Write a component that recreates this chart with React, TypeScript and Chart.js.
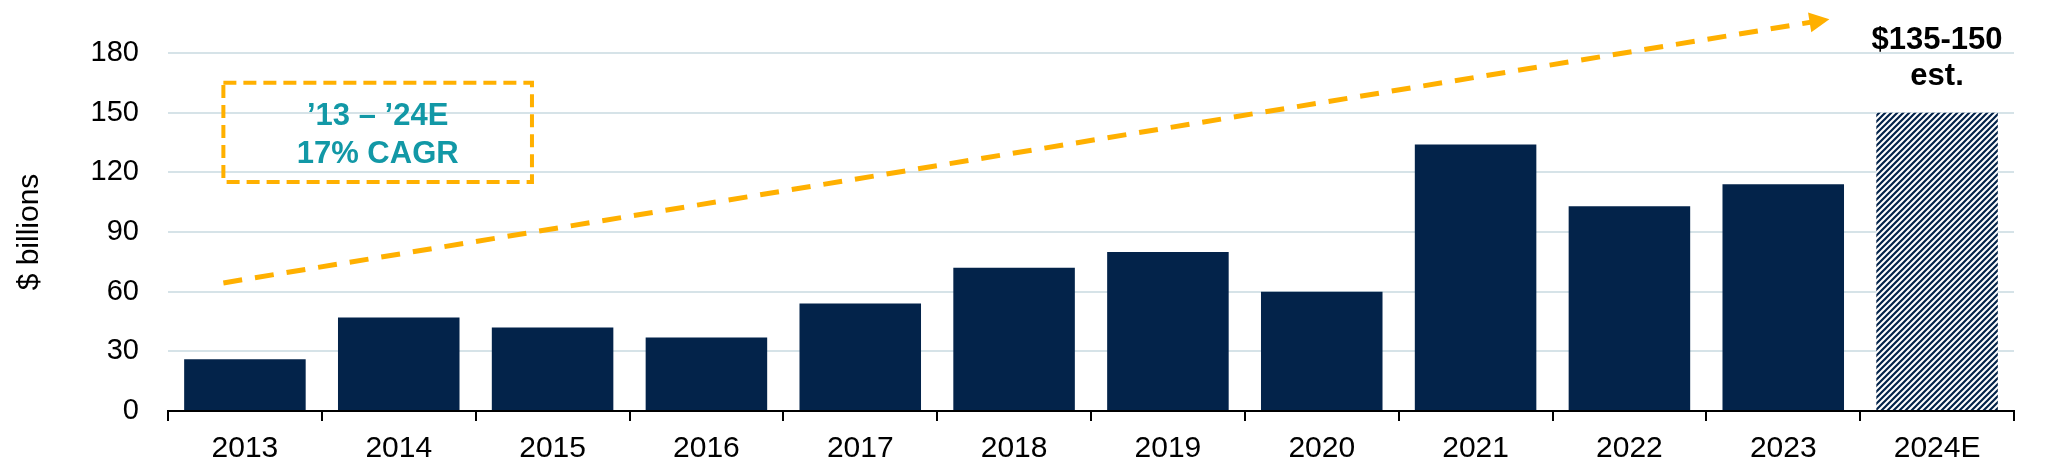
import { useEffect, useRef } from "react";
import Chart from "chart.js/auto";
import type { Plugin } from "chart.js";

// values
const years = ["2013", "2014", "2015", "2016", "2017", "2018", "2019", "2020", "2021", "2022", "2023", "2024E"];
const investment = [26, 47, 42, 37, 54, 72, 80, 60, 134, 103, 114, 150];
const yTicks = [0, 30, 60, 90, 120, 150, 180];

// dashed trend arrow, in category-index / $bn units
const trendX = [-0.14, 10.3];
const trendY = [64.4, 197];

const cagrLines = ["\u201913 \u2013 \u201924E", "17% CAGR"];
const estimateLines = ["$135-150", "est."];

const NAVY = "#03234a";
const ORANGE = "#ffb000";
const TEAL = "#1298a6";
const GRID = "#d6e3e8";
const FONT = "'Liberation Sans', Arial, sans-serif";

function makeHatch(): CanvasPattern | string {
  const s = 6;
  const tile = document.createElement("canvas");
  tile.width = s;
  tile.height = s;
  const c = tile.getContext("2d");
  if (!c) return NAVY;
  c.fillStyle = "#fff";
  c.fillRect(0, 0, s, s);
  c.strokeStyle = NAVY;
  c.lineWidth = 2.2;
  c.beginPath();
  c.moveTo(0, s);
  c.lineTo(s, 0);
  c.moveTo(-s / 2, s / 2);
  c.lineTo(s / 2, -s / 2);
  c.moveTo(s / 2, s * 1.5);
  c.lineTo(s * 1.5, s / 2);
  c.stroke();
  return c.createPattern(tile, "repeat") ?? NAVY;
}

const annotations: Plugin<"bar"> = {
  id: "annotations",
  afterDatasetsDraw(chart) {
    const { ctx } = chart;
    const xs = chart.scales.xTrend;
    const ys = chart.scales.y;

    // arrow head on the end of the trend line
    const pts = chart.getDatasetMeta(1).data;
    if (pts.length > 1) {
      const a = pts[pts.length - 2];
      const b = pts[pts.length - 1];
      const ang = Math.atan2(b.y - a.y, b.x - a.x);
      ctx.save();
      ctx.translate(b.x, b.y);
      ctx.rotate(ang);
      ctx.fillStyle = ORANGE;
      ctx.beginPath();
      ctx.moveTo(0, 0);
      ctx.lineTo(-20, -10);
      ctx.lineTo(-20, 10);
      ctx.closePath();
      ctx.fill();
      ctx.restore();
    }

    // CAGR box
    const left = xs.getPixelForValue(-0.14);
    const right = xs.getPixelForValue(1.866);
    const top = ys.getPixelForValue(165);
    const bottom = ys.getPixelForValue(115.2);
    ctx.save();
    ctx.strokeStyle = ORANGE;
    ctx.lineWidth = 4;
    ctx.setLineDash([13, 7]);
    ctx.strokeRect(left, top, right - left, bottom - top);
    ctx.setLineDash([]);
    ctx.fillStyle = TEAL;
    ctx.font = `bold 31px ${FONT}`;
    ctx.textAlign = "center";
    ctx.textBaseline = "alphabetic";
    const cx = (left + right) / 2;
    ctx.fillText(cagrLines[0], cx, top + 42);
    ctx.fillText(cagrLines[1], cx, top + 80);

    // estimate label over the last bar
    const bars = chart.getDatasetMeta(0).data;
    const last = bars[bars.length - 1];
    if (last) {
      ctx.fillStyle = "#000";
      ctx.fillText(estimateLines[0], last.x, last.y - 63.5);
      ctx.fillText(estimateLines[1], last.x, last.y - 28);
    }
    ctx.restore();
  },
};

export default function App() {
  const canvasRef = useRef<HTMLCanvasElement>(null);
  const chartRef = useRef<Chart | null>(null);

  useEffect(() => {
    document.body.style.margin = "0";
    if (!canvasRef.current) return;
    if (chartRef.current) chartRef.current.destroy();

    const hatch = makeHatch();

    chartRef.current = new Chart(canvasRef.current, {
      type: "bar",
      data: {
        labels: years,
        datasets: [
          {
            type: "bar",
            data: investment,
            backgroundColor: investment.map((_, i) => (i === investment.length - 1 ? hatch : NAVY)),
            borderWidth: 0,
            barPercentage: 0.79,
            categoryPercentage: 1,
            grouped: false,
            order: 1,
          },
          {
            type: "line",
            xAxisID: "xTrend",
            data: trendX.map((x, i) => ({ x, y: trendY[i] })),
            borderColor: ORANGE,
            borderWidth: 5,
            borderDash: [19, 13],
            pointRadius: 0,
            fill: false,
            clip: false,
            order: 0,
          } as any,
        ],
      },
      options: {
        animation: false,
        responsive: true,
        maintainAspectRatio: false,
        layout: { padding: { top: 53, right: 34, left: 0, bottom: 0 } },
        plugins: { legend: { display: false }, tooltip: { enabled: false } },
        scales: {
          x: {
            type: "category",
            offset: true,
            afterFit: (scale) => {
              scale.height = 60;
            },
            grid: {
              display: true,
              drawOnChartArea: false,
              drawTicks: true,
              tickLength: 10,
              color: "#000",
              lineWidth: 2,
              offset: true,
            },
            border: { display: true, color: "#000", width: 2 },
            ticks: { color: "#000", font: { family: FONT, size: 30 }, padding: 10, maxRotation: 0 },
          },
          xTrend: {
            type: "linear",
            display: false,
            offset: false,
            grid: { offset: false },
            min: -0.5,
            max: years.length - 0.5,
          },
          y: {
            min: yTicks[0],
            max: yTicks[yTicks.length - 1],
            afterFit: (scale) => {
              scale.width = 168;
            },
            afterBuildTicks: (scale) => {
              scale.ticks = yTicks.map((v) => ({ value: v }));
            },
            grid: { color: GRID, lineWidth: 2, drawTicks: false },
            border: { display: false },
            ticks: { color: "#000", font: { family: FONT, size: 29 }, padding: 29 },
            title: {
              display: true,
              text: "$ billions",
              color: "#000",
              font: { family: FONT, size: 30 },
              padding: { top: 12, bottom: 0 },
            },
          },
        },
      },
      plugins: [annotations],
    });

    return () => {
      if (chartRef.current) {
        chartRef.current.destroy();
        chartRef.current = null;
      }
    };
  }, []);

  return (
    <div style={{ width: 2048, height: 471, position: "relative" }}>
      <canvas ref={canvasRef} />
    </div>
  );
}
